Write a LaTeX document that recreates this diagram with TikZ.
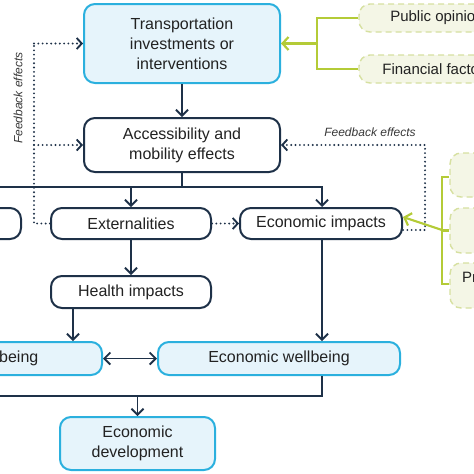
\documentclass[tikz,border=0pt]{standalone}
\usepackage{fontspec}
\setmainfont{Liberation Sans}
\usetikzlibrary{arrows.meta}
\definecolor{navy}{HTML}{1E3148}
\definecolor{cyanb}{HTML}{2BB0DE}
\definecolor{cyanf}{HTML}{E6F4FB}
\definecolor{grn}{HTML}{B4CB37}
\definecolor{grnf}{HTML}{F4F6E6}
\definecolor{grnd}{HTML}{D6E0A0}
\definecolor{txt}{HTML}{222222}
\begin{document}
\begin{tikzpicture}[x=1pt,y=-1pt,
  every node/.style={font=\fontsize{16}{20}\selectfont, text=txt, align=center, inner sep=0pt},
  navybox/.style={draw=navy, line width=2pt, fill=white, rounded corners=11pt},
  bluebox/.style={draw=cyanb, line width=2pt, fill=cyanf, rounded corners=11pt},
  gbox/.style={draw=grnd, fill=grnf, line width=1.4pt, dash pattern=on 6pt off 4pt, rounded corners=11pt, font=\fontsize{15}{18}\selectfont},
  nline/.style={draw=navy, line width=1.9pt},
  arr/.style={nline, -{Straight Barb[length=6pt,width=12pt]}},
  darr/.style={nline, {Straight Barb[length=6pt,width=12pt]}-{Straight Barb[length=6pt,width=12pt]}},
  dotarr/.style={draw=navy, line width=2.1pt, line cap=round, dash pattern=on 0pt off 4.3pt, -{Straight Barb[length=5pt,width=11pt,line width=1.9pt]}},
  dotline/.style={draw=navy, line width=2.1pt, line cap=round, dash pattern=on 0pt off 4.3pt},
  gline/.style={draw=grn, line width=2.2pt},
  garr/.style={gline, -{Straight Barb[length=6pt,width=13pt]}},
  fb/.style={font=\fontsize{12}{14}\selectfont\itshape, text=txt!90}
]
\useasboundingbox (0,0) rectangle (474,474);
\clip (0,0) rectangle (474,474);

% main boxes
\node[bluebox, minimum width=196pt, minimum height=79pt] (trans) at (182,43.5) {Transportation\\investments or\\interventions};
\node[navybox, minimum width=196pt, minimum height=54pt] (access) at (182,145) {Accessibility and\\mobility effects};
\node[navybox, minimum width=162pt, minimum height=31pt] (leftbox) at (-60,223.5) {};
\node[navybox, minimum width=160pt, minimum height=31pt] (ext) at (131,223.5) {Externalities};
\node[navybox, minimum width=162pt, minimum height=31pt] (econimp) at (321,223.5) {Economic impacts};
\node[navybox, minimum width=160pt, minimum height=32pt] (health) at (131,292) {Health impacts};
\node[bluebox, minimum width=242pt, minimum height=33pt] (wellb) at (-19,358.5) {Social wellbeing};
\node[bluebox, minimum width=242pt, minimum height=33pt] (econwb) at (279,358.5) {Economic wellbeing};
\node[bluebox, minimum width=155pt, minimum height=53pt] (econdev) at (137.5,443.5) {Economic\\development};

% green boxes
\node[gbox, minimum width=156pt, minimum height=28pt] (pub) at (437,18) {Public opinion};
\node[gbox, minimum width=156pt, minimum height=28pt] (fin) at (437,69) {Financial factors};
\node[gbox, minimum width=150pt, minimum height=44pt] (r1) at (525,175) {};
\node[gbox, minimum width=150pt, minimum height=45pt] (r2) at (525,230.5) {};
\node[gbox, minimum width=150pt, minimum height=45pt] (r3) at (525,285.5) {};
\node[anchor=base west, font=\fontsize{15}{18}\selectfont] (r3t) at (462,282) {Pr};

% coordinates
\coordinate (j1) at (182,187);
\coordinate (busL) at (-60,187);
\coordinate (busR) at (322,187);
\coordinate (b1) at (322,396);
\coordinate (fbL) at (34,43.5);
\coordinate (fbR) at (425,145);
\coordinate (g1) at (317,43.5);
\coordinate (g2) at (442,230);

% solid connectors
\draw[arr] (trans.south) -- (access.north);
\draw[nline] (access.south) -- (j1);
\draw[arr] (busL) -- (busR) -- (busR |- econimp.north);
\draw[arr] (busL) -- (leftbox.north);
\draw[arr] (ext.north |- j1) -- (ext.north);
\draw[arr] (ext.south) -- (health.north);
\draw[arr] ([xshift=-58pt]health.south) -- ([xshift=-58pt]health.south |- wellb.north);
\draw[arr] ([xshift=1pt]econimp.south) -- ([xshift=1pt]econimp.south |- econwb.north);
\draw[darr] (wellb.east) -- (econwb.west);
\draw[nline] (wellb.south) -- (wellb.south |- b1) -- (b1) -- ([xshift=43pt]econwb.south);
\draw[arr] (econdev.north |- b1) -- (econdev.north);

% feedback dotted
\draw[dotline] (ext.west) -- (ext.west -| fbL) -- (fbL);
\draw[dotarr] (fbL) -- (trans.west);
\draw[dotarr] (fbL |- access.west) -- (access.west);
\draw[dotarr] (ext.east) -- (econimp.west);
\draw[dotarr] ([yshift=-6.5pt]econimp.east) -- ([yshift=-6.5pt]econimp.east -| fbR) -- (fbR) -- (access.east);
\node[fb, rotate=90] (fbl1) at (18,98) {Feedback effects};
\node[fb] (fbl2) at (370,132) {Feedback effects};

% green connectors
\draw[garr] (g1) -- (trans.east);
\draw[gline] (pub.west) -- (pub.west -| g1) -- (fin.west -| g1) -- (fin.west);
\draw[garr] (g2) -- ([yshift=6.5pt]econimp.east);
\draw[gline] ([yshift=-2pt]r1.west) -- ([yshift=-2pt]r1.west -| g2) -- ([yshift=1.5pt]r3.west -| g2) -- ([yshift=1.5pt]r3.west);
\draw[gline] (r2.west) -- (r2.west -| g2);
\end{tikzpicture}
\end{document}
